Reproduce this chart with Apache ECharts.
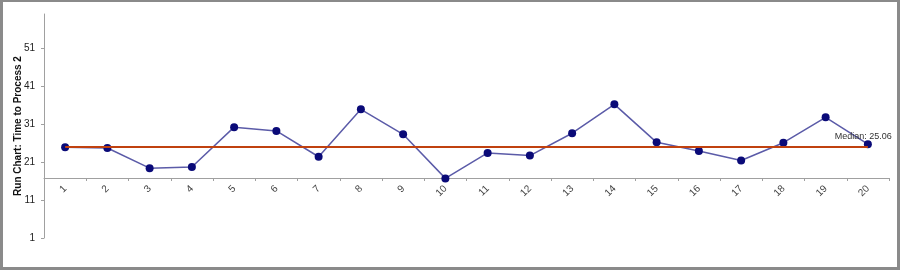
<!DOCTYPE html>
<html><head><meta charset="utf-8">
<script src="https://cdn.jsdelivr.net/npm/echarts@6/dist/echarts.min.js"></script>
<style>
html,body{margin:0;padding:0;background:#fff;}
#wrap{position:relative;width:900px;height:270px;}
#chart{position:absolute;left:0;top:0;width:900px;height:270px;}
#frame{position:absolute;left:0;top:0;width:900px;height:270px;box-sizing:border-box;border:3px solid #8a8a8a;border-top-width:2px;pointer-events:none;}
</style></head>
<body>
<div id="wrap"><div id="chart"></div><div id="frame"></div></div>
<script>
const categories = ['1','2','3','4','5','6','7','8','9','10','11','12','13','14','15','16','17','18','19','20'];
const values = [24.9, 24.7, 19.4, 19.7, 30.2, 29.2, 22.4, 34.9, 28.3, 16.7, 23.4, 22.7, 28.6, 36.2, 26.2, 23.9, 21.4, 26.1, 32.8, 25.7];
const median = 25.06;
const yTicks = [1, 11, 21, 31, 41, 51];
const yTitle = 'Run Chart: Time to Process 2';

const chart = echarts.init(document.getElementById('chart'), null, {renderer:'canvas'});
chart.setOption({
  animation: false,
  backgroundColor: '#fff',
  grid: {left: 44, right: 11, top: 14, bottom: 32},
  xAxis: {
    type: 'category',
    data: categories,
    boundaryGap: true,
    offset: -60,
    axisLine: {onZero: false, lineStyle: {color: '#a0a0a0', width: 1}},
    axisTick: {show: true, inside: false, length: 3, lineStyle: {color: '#a0a0a0'}},
    axisLabel: {rotate: 45, color: '#444', fontSize: 10, fontFamily: 'Liberation Sans, Arial', margin: 9}
  },
  yAxis: {
    type: 'value',
    min: yTicks[0],
    max: 60,
    interval: yTicks[1] - yTicks[0],
    name: yTitle,
    nameLocation: 'middle',
    nameGap: 21,
    nameMoveOverlap: false,
    nameTextStyle: {fontWeight: 'bold', fontSize: 10, color: '#111', fontFamily: 'Liberation Sans, Arial'},
    axisLine: {show: true, lineStyle: {color: '#a0a0a0'}},
    axisTick: {show: true, length: 3, lineStyle: {color: '#a0a0a0'}},
    axisLabel: {color: '#222', fontSize: 10, fontFamily: 'Liberation Sans, Arial', margin: 9, showMaxLabel: false,
      formatter: v => yTicks.includes(v) ? String(v) : ''},
    splitLine: {show: false}
  },
  series: [{
    type: 'line',
    data: values,
    symbol: 'circle',
    symbolSize: 8,
    lineStyle: {color: '#5b5ba8', width: 1.5},
    itemStyle: {color: '#0a0a78'},
    markLine: {
      silent: true,
      symbol: ['none','none'],
      lineStyle: {color: '#c0410f', width: 2, type: 'solid'},
      label: {show: true, position: 'insideEndTop', formatter: 'Median: ' + median.toFixed(2),
        color: '#333', fontSize: 9, fontFamily: 'Liberation Sans, Arial', offset: [29, -1]},
      data: [[{coord: [categories[0], median]}, {coord: [categories[categories.length-1], median]}]]
    }
  }]
});
</script>
</body></html>
